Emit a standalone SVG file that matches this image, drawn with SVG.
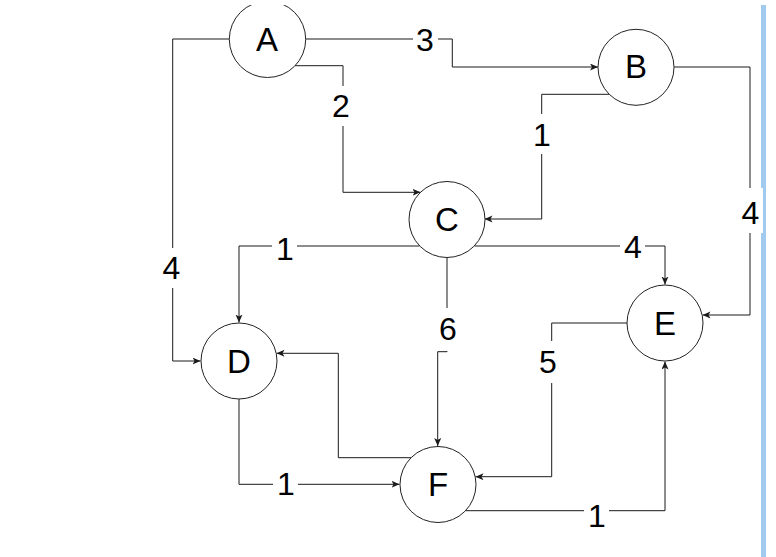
<svg xmlns="http://www.w3.org/2000/svg" width="776" height="557" viewBox="0 0 776 557">
<style>
.node circle{fill:#fff;stroke:#222;stroke-width:1}
.node text{font-family:"Liberation Sans",Arial,sans-serif;font-size:33px;text-anchor:middle;fill:#000}
.edge path{fill:none;stroke:#1a1a1a;stroke-width:1}
.lbl rect{fill:#fff}
.lbl text{font-family:"Liberation Sans",Arial,sans-serif;font-size:32px;text-anchor:middle;fill:#000}
</style>
<defs>
<marker id="arr" markerUnits="userSpaceOnUse" markerWidth="10" markerHeight="10" refX="8" refY="3.5" orient="auto">
<path d="M0,0 L8,3.5 L0,7 L2,3.5 Z" fill="#1a1a1a"/>
</marker>
<clipPath id="top"><rect x="0" y="5" width="776" height="552"/></clipPath>
</defs>
<rect width="776" height="557" fill="#fff"/>
<rect x="761" y="5" width="5" height="552" fill="#a0cbee"/>
<g id="connectors" class="edge">
<path d="M305.7,39 H452.3 V67 H598" marker-end="url(#arr)"/>
<path d="M295,65.7 H343 V192.3 H420.5" marker-end="url(#arr)"/>
<path d="M229.3,39 H172.7 V361 H200.5" marker-end="url(#arr)"/>
<path d="M609,94.3 H541.7 V219 H484.5" marker-end="url(#arr)"/>
<path d="M674,67 H750 V315 H702.5" marker-end="url(#arr)"/>
<path d="M474.5,246 H665 V284.5" marker-end="url(#arr)"/>
<path d="M419.5,246 H239 V322.5" marker-end="url(#arr)"/>
<path d="M447,257.5 V351.7 H437.7 V446" marker-end="url(#arr)"/>
<path d="M411,457.7 H338.3 V353.3 H276.5" marker-end="url(#arr)"/>
<path d="M239,399 V484.3 H399.5" marker-end="url(#arr)"/>
<path d="M627,323 H551.7 V476.7 H475.5" marker-end="url(#arr)"/>
<path d="M465.5,510.7 H665 V361.5" marker-end="url(#arr)"/>
</g>
<g id="labels" class="lbl">
<g><rect x="413" y="21" width="25" height="38"/><text x="425" y="51">3</text></g>
<g><rect x="329" y="86" width="25" height="40"/><text x="341" y="117">2</text></g>
<g><rect x="530" y="114" width="25" height="40"/><text x="542" y="146">1</text></g>
<g><rect x="738" y="188" width="25" height="45"/><text x="750.5" y="224">4</text></g>
<g><rect x="620" y="228" width="25" height="38"/><text x="633" y="258">4</text></g>
<g><rect x="272" y="229" width="25" height="38"/><text x="285" y="260">1</text></g>
<g><rect x="159" y="248" width="25" height="40"/><text x="171.3" y="279">4</text></g>
<g><rect x="435" y="308" width="25" height="43"/><text x="448" y="340">6</text></g>
<g><rect x="273" y="466" width="25" height="38"/><text x="286" y="495">1</text></g>
<g><rect x="536" y="341" width="25" height="42"/><text x="548" y="373">5</text></g>
<g><rect x="584" y="494" width="25" height="38"/><text x="597" y="527">1</text></g>
</g>
<g id="node-A" class="node"><circle cx="267.5" cy="39.3" r="38.2" clip-path="url(#top)"/><text x="267" y="51">A</text></g>
<g id="node-B" class="node"><circle cx="636" cy="67.3" r="38"/><text x="636" y="78">B</text></g>
<g id="node-C" class="node"><circle cx="447" cy="219.5" r="38"/><text x="447" y="231">C</text></g>
<g id="node-D" class="node"><circle cx="239" cy="361" r="38"/><text x="239" y="373">D</text></g>
<g id="node-E" class="node"><circle cx="665" cy="323" r="38"/><text x="665" y="335">E</text></g>
<g id="node-F" class="node"><circle cx="438" cy="484.5" r="38"/><text x="438" y="496">F</text></g>
</svg>
